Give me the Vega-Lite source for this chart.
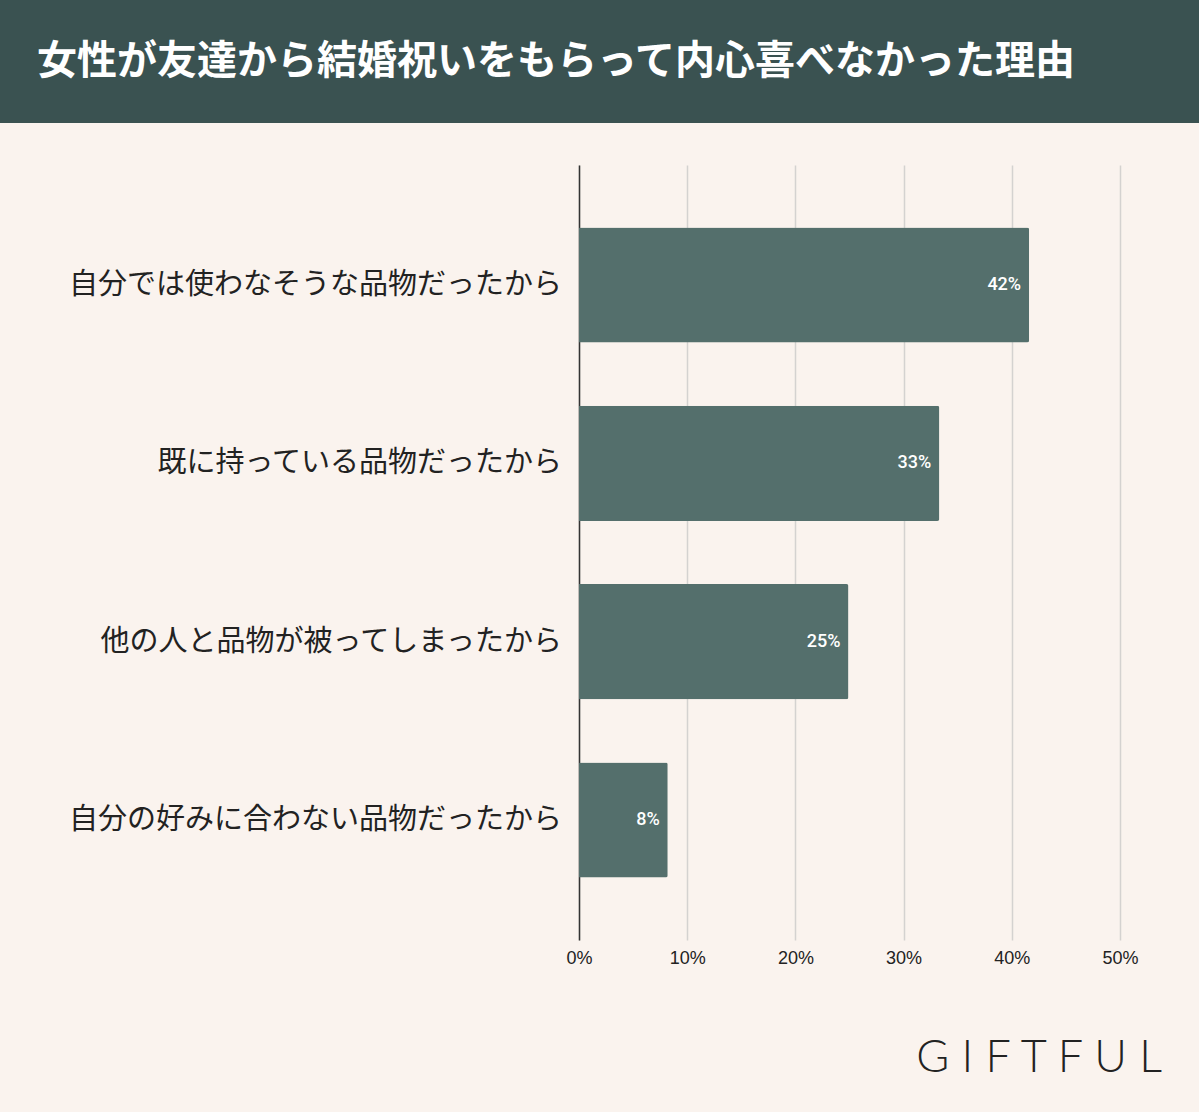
{
  "$schema": "https://vega.github.io/schema/vega-lite/v6.json",
  "background": "#faf3ee",
  "padding": {"left": 0, "top": 0, "right": 0, "bottom": 36},
  "spacing": 42,
  "config": {"view": {"stroke": null}},
  "datasets": {
    "reasons": [
      {"reason": "自分では使わなそうな品物だったから", "share": 0.416},
      {"reason": "既に持っている品物だったから", "share": 0.333},
      {"reason": "他の人と品物が被ってしまったから", "share": 0.249},
      {"reason": "自分の好みに合わない品物だったから", "share": 0.082}
    ]
  },
  "vconcat": [
    {
      "width": 1199,
      "height": 123,
      "view": {"fill": "#3a5251", "stroke": null},
      "data": {"values": [{"title": "女性が友達から結婚祝いをもらって内心喜べなかった理由"}]},
      "mark": {"type": "text", "align": "left", "baseline": "middle", "font": "Noto Sans CJK JP", "fontWeight": "bold", "fontSize": 40, "color": "#ffffff"},
      "encoding": {
        "text": {"field": "title"},
        "x": {"value": 37},
        "y": {"value": 62}
      }
    },
    {
      "spacing": 3,
      "hconcat": [
        {
          "width": 560,
          "height": 775,
          "data": {"name": "reasons"},
          "mark": {"type": "text", "align": "right", "baseline": "middle", "dx": 2, "font": "Noto Sans CJK JP", "fontSize": 29, "color": "#222222"},
          "encoding": {
            "y": {
              "field": "reason", "type": "nominal", "sort": null,
              "scale": {"type": "band", "paddingInner": 0.354, "paddingOuter": 0.35},
              "axis": null
            },
            "x": {"value": "width"},
            "text": {"field": "reason"}
          }
        },
        {
          "width": 541,
          "height": 775,
          "data": {"name": "reasons"},
          "title": {
            "text": "G I F T F U L",
            "orient": "bottom",
            "anchor": "end",
            "font": "Lato",
            "fontWeight": 300,
            "fontSize": 45,
            "color": "#222222",
            "offset": 69,
            "dx": 24
          },
          "encoding": {
            "y": {
              "field": "reason", "type": "nominal", "sort": null,
              "scale": {"paddingInner": 0.354, "paddingOuter": 0.35},
              "axis": {
                "title": null, "domain": true, "domainColor": "#333333", "domainWidth": 1.5,
                "ticks": false, "labels": false, "minExtent": 0, "maxExtent": 0
              }
            },
            "x": {
              "field": "share", "type": "quantitative",
              "scale": {"domain": [0, 0.5]},
              "axis": {
                "title": null, "format": ".0%", "values": [0, 0.1, 0.2, 0.3, 0.4, 0.5],
                "grid": true, "gridColor": "#d4d2d0", "gridWidth": 1.5,
                "domain": false, "ticks": false, "labelFlush": false,
                "labelFont": "Liberation Sans", "labelFontSize": 18, "labelColor": "#222222", "labelPadding": 9
              }
            }
          },
          "layer": [
            {"mark": {"type": "bar", "color": "#546f6c", "cornerRadiusEnd": 2}},
            {
              "mark": {"type": "text", "align": "right", "baseline": "middle", "dx": -8, "color": "#ffffff", "font": "Roboto", "fontWeight": 500, "fontSize": 18},
              "encoding": {"text": {"field": "share", "type": "quantitative", "format": ".0%"}}
            }
          ]
        }
      ]
    }
  ]
}
